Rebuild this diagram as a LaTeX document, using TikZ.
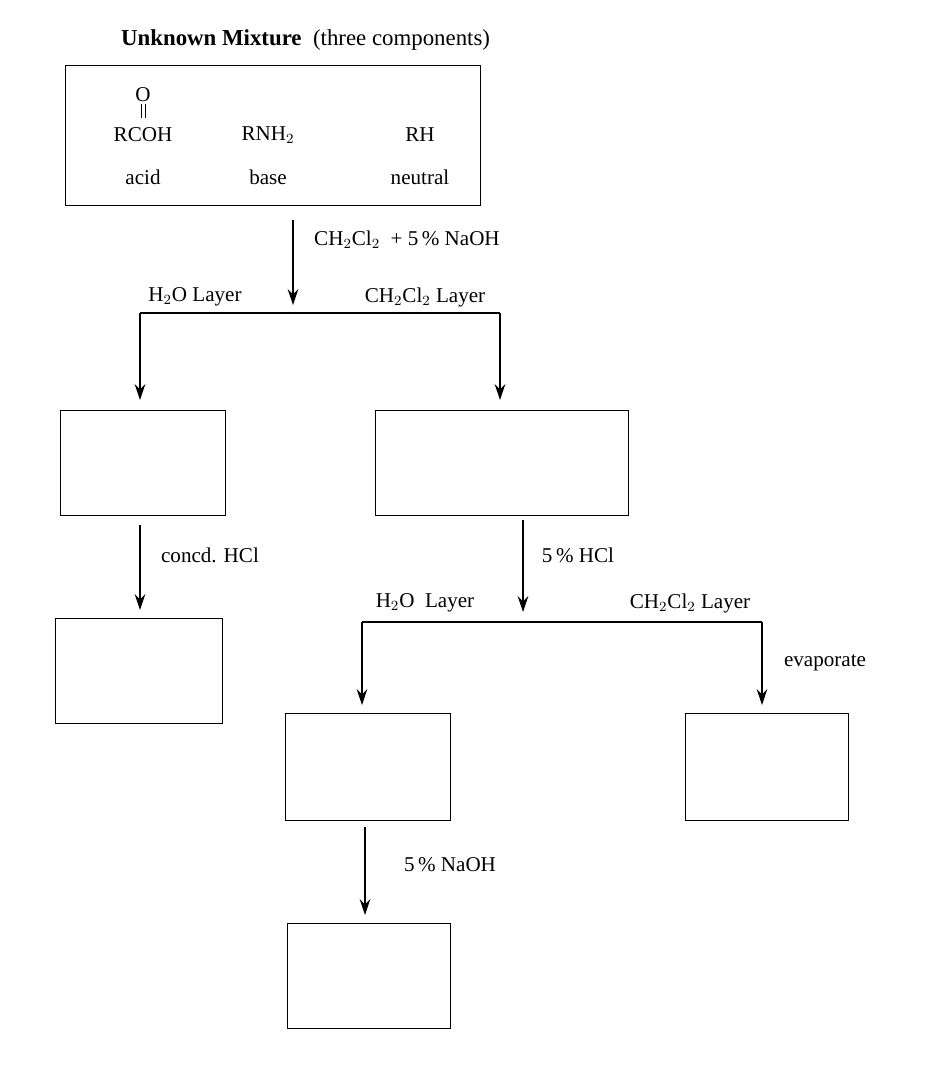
\documentclass[tikz,border=0pt]{standalone}
\usepackage{fontspec}
\setmainfont{Liberation Serif}
\usetikzlibrary{positioning,arrows.meta}
\tikzset{box/.style={draw=black,line width=0.6pt,anchor=north west},
         arr/.style={-{Stealth[length=9pt,width=6pt]},line width=0.6pt},
         lbl/.style={font=\fontsize{12}{14}\selectfont}}

\begin{document}
\begin{tikzpicture}[x=0.02cm,y=-0.02cm]
        \useasboundingbox (0,0) rectangle (928,1084);
        \node[lbl,anchor=west] (title) at (115,40) {\fontsize{13}{15}\selectfont\textbf{Unknown Mixture}\ \ (three components)};

        \node[box,minimum width=8.3cm,minimum height=2.8cm] (mix) at (65,65) {};
        \node[lbl,inner sep=0pt] (o) at (143,95) {O};
        \draw [line width=0.5pt] (141,104) -- (141,118) (145,104) -- (145,118);
        \node[lbl] (acid) at (143,135) {RCOH};
        \node[lbl] (base) at (268,135) {RNH$_2$};
        \node[lbl] (neut) at (420,135) {RH};
        \node[lbl] at (143,177) {acid};
        \node[lbl] at (268,177) {base};
        \node[lbl] at (420,177) {neutral};

        \coordinate (s1) at (293,220);
        \coordinate (j1) at (293,305);
        \draw [arr] (s1) -- (j1);
        \node[lbl,anchor=west] at (308,240) {CH$_2$Cl$_2$\ \ + 5\,\% NaOH};
        \coordinate (l1) at (140,313);
        \coordinate (r1) at (500,313);
        \draw [line width=0.6pt] (l1) -- (r1);
        \node[lbl] at (195,297) {H$_2$O\ Layer};
        \node[lbl] at (425,297) {CH$_2$Cl$_2$ Layer};

        \node[box,minimum width=3.3cm,minimum height=2.1cm] (A) at (60,410) {};
        \node[box,minimum width=5.06cm,minimum height=2.1cm] (B) at (375,410) {};
        \draw [arr] (l1) -- (140,400);
        \draw [arr] (r1) -- (500,400);

        \node[box,minimum width=3.34cm,minimum height=2.1cm] (C) at (55,618) {};
        \coordinate (s3) at (140,525);
        \coordinate (e3) at (140,610);
        \draw [arr] (s3) -- (e3);
        \node[lbl] at (210,555) {concd. HCl};

        \coordinate (s2) at (523,520);
        \coordinate (j2) at (523,612);
        \draw [arr] (s2) -- (j2);
        \node[lbl] at (578,555) {5\,\% HCl};
        \coordinate (l2) at (362,622);
        \coordinate (r2) at (762,622);
        \draw [line width=0.6pt] (l2) -- (r2);
        \node[lbl] at (425,603) {H$_2$O\ \ Layer};
        \node[lbl] at (690,603) {CH$_2$Cl$_2$ Layer};

        \node[box,minimum width=3.3cm,minimum height=2.14cm] (D) at (285,713) {};
        \node[box,minimum width=3.26cm,minimum height=2.14cm] (E) at (685,713) {};
        \draw [arr] (l2) -- (362,705);
        \draw [arr] (r2) -- (762,705);
        \node[lbl] at (825,663) {evaporate};

        \node[box,minimum width=3.26cm,minimum height=2.1cm] (F) at (287,923) {};
        \coordinate (s4) at (365,827);
        \coordinate (e4) at (365,915);
        \draw [arr] (s4) -- (e4);
        \node[lbl] at (450,865) {5\,\% NaOH};
    \end{tikzpicture}
\end{document}
